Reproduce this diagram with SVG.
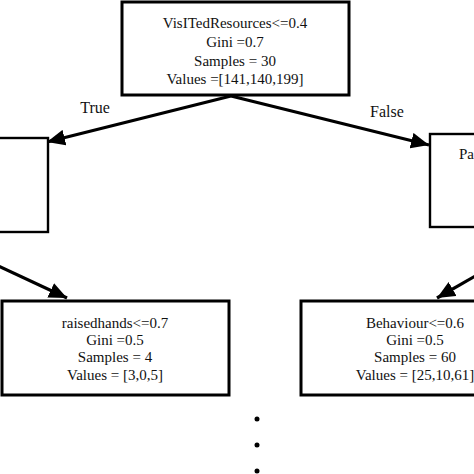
<svg xmlns="http://www.w3.org/2000/svg" width="474" height="474" viewBox="0 0 474 474">
<style>
.box{fill:#fff;stroke:#000;stroke-width:3}
.mid{fill:#fff;stroke:#000;stroke-width:2.4}
.t{font-family:"Liberation Serif","Times New Roman",serif;font-size:15px;fill:#111;text-anchor:middle}
.lbl{font-family:"Liberation Serif","Times New Roman",serif;font-size:16px;fill:#111;text-anchor:middle}
.edge{stroke:#000;stroke-width:3.2;fill:none;marker-end:url(#ah)}
</style>
<defs>
<marker id="ah" markerUnits="userSpaceOnUse" markerWidth="20" markerHeight="16" refX="18" refY="8" orient="auto">
<path d="M0,0 L18,8 L0,16 z" fill="#000"/>
</marker>
</defs>
<rect width="474" height="474" fill="#fff"/>
<g id="connectors">
<line class="edge" x1="231" y1="96" x2="47" y2="142"/>
<line class="edge" x1="231" y1="96" x2="429" y2="145"/>
<line class="edge" x1="-10" y1="262" x2="67" y2="298"/>
<line class="edge" x1="484" y1="271" x2="437" y2="298"/>
<text class="lbl" x="95" y="113">True</text>
<text class="lbl" x="387" y="117">False</text>
</g>
<g id="root">
<rect class="box" x="122" y="2" width="227" height="93"/>
<text class="t" x="235" y="28">VisITedResources&lt;=0.4</text>
<text class="t" x="235" y="47">Gini =0.7</text>
<text class="t" x="235" y="66">Samples = 30</text>
<text class="t" x="235" y="84">Values =[141,140,199]</text>
</g>
<g id="left">
<rect class="mid" x="-10" y="138" width="58" height="94"/>
</g>
<g id="right">
<rect class="mid" x="430" y="134" width="60" height="93"/>
<text class="t" x="459" y="159" style="text-anchor:start">Pa</text>
</g>
<g id="leftleft">
<rect class="box" x="2" y="301" width="227" height="94"/>
<text class="t" x="115" y="328">raisedhands&lt;=0.7</text>
<text class="t" x="115" y="345">Gini =0.5</text>
<text class="t" x="115" y="362">Samples = 4</text>
<text class="t" x="115" y="380">Values = [3,0,5]</text>
</g>
<g id="rightleft">
<rect class="box" x="301" y="301" width="190" height="94"/>
<text class="t" x="415" y="328">Behaviour&lt;=0.6</text>
<text class="t" x="415" y="345">Gini =0.5</text>
<text class="t" x="415" y="362">Samples = 60</text>
<text class="t" x="415" y="380">Values = [25,10,61]</text>
</g>
<g id="dots">
<circle cx="257" cy="419" r="2.5" fill="#000"/>
<circle cx="257" cy="445" r="2.5" fill="#000"/>
<circle cx="257" cy="471" r="2.5" fill="#000"/>
</g>
</svg>
